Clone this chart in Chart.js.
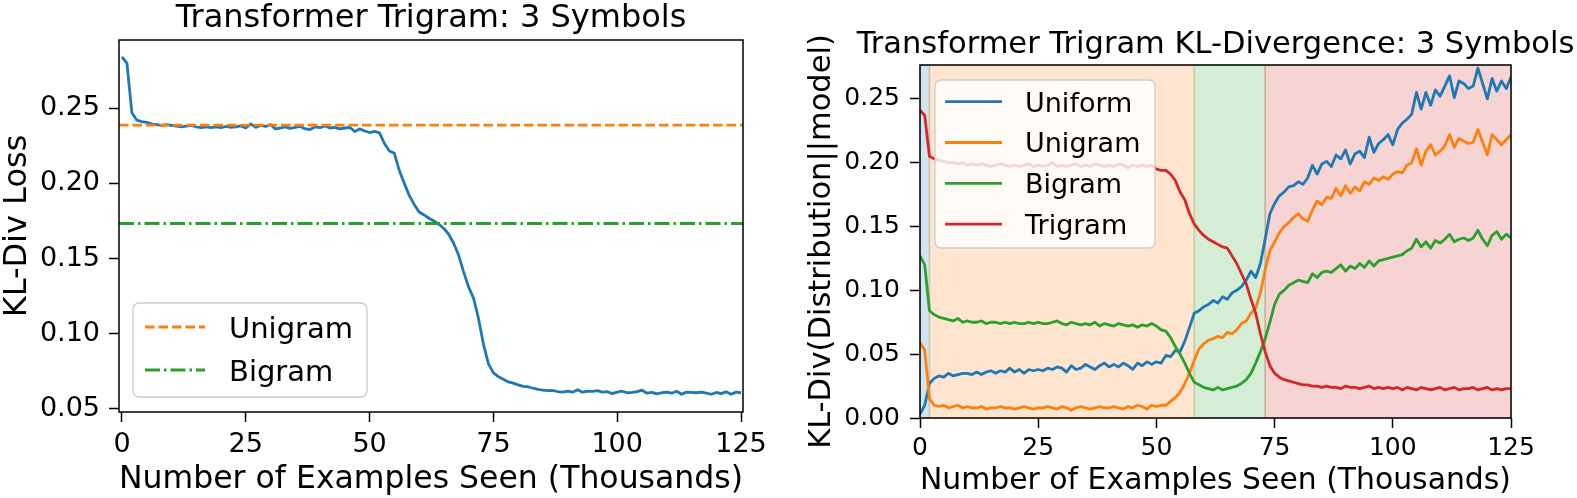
<!DOCTYPE html>
<html>
<head>
<meta charset="utf-8">
<script src="https://cdn.jsdelivr.net/npm/chart.js@4.4.0/dist/chart.umd.min.js"></script>
<style>
  html, body { margin: 0; padding: 0; background: #fff; }
  #wrap { position: relative; width: 1577px; height: 498px; }
  canvas { position: absolute; top: 0; }
  #left { left: 0; }
  #right { left: 790px; }
</style>
</head>
<body>
<div id="wrap">
  <canvas id="left" width="790" height="498"></canvas>
  <canvas id="right" width="787" height="498"></canvas>
</div>
<script>
// examples seen, in thousands (one point per thousand)
const stepsK = [...Array(126).keys()];

// left panel: transformer loss and the two baselines
const lossTransformer = [
  0.284, 0.280, 0.247, 0.242, 0.241, 0.2405, 0.2395, 0.239, 0.2385, 0.239,
  0.2385, 0.238, 0.2375, 0.238, 0.2385, 0.2375, 0.237, 0.2375, 0.237, 0.2375,
  0.237, 0.2378, 0.2372, 0.2375, 0.2382, 0.2368, 0.2395, 0.2372, 0.2385, 0.2378,
  0.239, 0.2362, 0.2368, 0.2375, 0.2365, 0.2372, 0.2378, 0.2362, 0.2358, 0.2376,
  0.237, 0.2382, 0.2368, 0.2372, 0.2362, 0.2368, 0.2372, 0.2345, 0.2362, 0.2348,
  0.2338, 0.2345, 0.2335, 0.2265, 0.2215, 0.2200, 0.2085, 0.200, 0.192, 0.186,
  0.181, 0.179, 0.1768, 0.175, 0.1728, 0.170, 0.166, 0.160, 0.152, 0.141,
  0.131, 0.1235, 0.110, 0.093, 0.080, 0.074, 0.0715, 0.0698, 0.068, 0.0672,
  0.066, 0.065, 0.0648, 0.0638, 0.063, 0.0626, 0.0622, 0.0623, 0.0615, 0.0612,
  0.0618, 0.0612, 0.0628, 0.0612, 0.0618, 0.0617, 0.0622, 0.0612, 0.0615, 0.0602,
  0.0612, 0.0618, 0.0608, 0.061, 0.0615, 0.0625, 0.0605, 0.061, 0.06, 0.0608,
  0.0612, 0.0605, 0.0618, 0.0598, 0.0612, 0.061, 0.0608, 0.0612, 0.0605, 0.0598,
  0.061, 0.0602, 0.0615, 0.0598, 0.0612, 0.0608
];
const unigramLoss = 0.2387;
const bigramLoss = 0.1733;

// right panel: KL(distribution || model)
const klUniform = [
  0.003, 0.010, 0.027, 0.031, 0.033, 0.032, 0.035, 0.033, 0.034, 0.035,
  0.035, 0.034, 0.036, 0.034, 0.036, 0.037, 0.035, 0.037, 0.036, 0.039,
  0.036, 0.038, 0.035, 0.038, 0.037, 0.038, 0.037, 0.039, 0.038, 0.040,
  0.039, 0.036, 0.041, 0.038, 0.039, 0.042, 0.040, 0.038, 0.041, 0.043,
  0.040, 0.042, 0.040, 0.043, 0.041, 0.038, 0.043, 0.041, 0.044, 0.042,
  0.044, 0.043, 0.049, 0.048, 0.053, 0.052, 0.060, 0.071, 0.082, 0.084,
  0.087, 0.089, 0.092, 0.090, 0.095, 0.093, 0.098, 0.100, 0.103, 0.108,
  0.115, 0.110, 0.121, 0.140, 0.160, 0.168, 0.174, 0.177, 0.181, 0.182,
  0.185, 0.183, 0.188, 0.198, 0.191, 0.199, 0.201, 0.197, 0.206, 0.203,
  0.210, 0.199, 0.207, 0.209, 0.204, 0.220, 0.208, 0.215, 0.218, 0.222,
  0.214, 0.226, 0.231, 0.234, 0.238, 0.255, 0.242, 0.255, 0.245, 0.257,
  0.252, 0.260, 0.268, 0.251, 0.264, 0.262, 0.258, 0.260, 0.274, 0.262,
  0.250, 0.266, 0.256, 0.264, 0.258, 0.267
];
const klUnigram = [
  0.059, 0.053, 0.015, 0.010, 0.009, 0.010, 0.008, 0.009, 0.010, 0.008,
  0.009, 0.008, 0.008, 0.009, 0.007, 0.008, 0.008, 0.009, 0.008, 0.008,
  0.007, 0.008, 0.009, 0.008, 0.007, 0.008, 0.008, 0.009, 0.008, 0.007,
  0.009, 0.008, 0.006, 0.008, 0.009, 0.008, 0.007, 0.008, 0.009, 0.008,
  0.008, 0.009, 0.008, 0.007, 0.009, 0.008, 0.010, 0.009, 0.007, 0.010,
  0.009, 0.010, 0.010, 0.013, 0.016, 0.020, 0.027, 0.035, 0.045, 0.054,
  0.058, 0.061, 0.062, 0.064, 0.063, 0.067, 0.066, 0.069, 0.074, 0.076,
  0.082, 0.086, 0.098, 0.116, 0.131, 0.138, 0.145, 0.150, 0.153, 0.157,
  0.160, 0.156, 0.154, 0.163, 0.170, 0.167, 0.173, 0.172, 0.180, 0.174,
  0.182, 0.176, 0.181, 0.178, 0.185, 0.183, 0.188, 0.186, 0.189, 0.187,
  0.191, 0.193, 0.192, 0.198, 0.200, 0.211, 0.198, 0.209, 0.214, 0.206,
  0.209, 0.213, 0.222, 0.212, 0.219, 0.217, 0.215, 0.216, 0.226, 0.216,
  0.206, 0.222, 0.218, 0.214, 0.218, 0.222
];
const klBigram = [
  0.127, 0.120, 0.084, 0.081, 0.079, 0.078, 0.077, 0.076, 0.078, 0.075,
  0.076, 0.075, 0.075, 0.076, 0.074, 0.075, 0.075, 0.074, 0.075, 0.074,
  0.075, 0.074, 0.074, 0.075, 0.074, 0.075, 0.074, 0.074, 0.075, 0.076,
  0.074, 0.073, 0.075, 0.074, 0.073, 0.074, 0.073, 0.075, 0.072, 0.074,
  0.073, 0.072, 0.074, 0.073, 0.072, 0.073, 0.071, 0.073, 0.072, 0.074,
  0.072, 0.069, 0.068, 0.063, 0.056, 0.050, 0.043, 0.035, 0.028, 0.026,
  0.024, 0.023, 0.022, 0.024, 0.022, 0.023, 0.024, 0.025, 0.027, 0.030,
  0.035, 0.043, 0.052, 0.062, 0.075, 0.089, 0.097, 0.100, 0.104, 0.106,
  0.108, 0.107, 0.106, 0.113, 0.110, 0.114, 0.115, 0.114, 0.117, 0.120,
  0.115, 0.119, 0.117, 0.121, 0.118, 0.123, 0.119, 0.123, 0.124, 0.125,
  0.126, 0.127, 0.128, 0.131, 0.133, 0.140, 0.134, 0.138, 0.133, 0.139,
  0.137, 0.140, 0.144, 0.138, 0.140, 0.141, 0.139, 0.141, 0.147, 0.140,
  0.135, 0.143, 0.146, 0.140, 0.144, 0.141
];
const klTrigram = [
  0.241, 0.237, 0.205, 0.203, 0.202, 0.201, 0.200, 0.200, 0.199, 0.200,
  0.198, 0.199, 0.198, 0.199, 0.198, 0.197, 0.198, 0.199, 0.198, 0.197,
  0.198, 0.197, 0.198, 0.199, 0.197, 0.198, 0.197, 0.198, 0.200, 0.197,
  0.198, 0.197, 0.198, 0.199, 0.197, 0.198, 0.197, 0.199, 0.198, 0.197,
  0.198, 0.197, 0.199, 0.198, 0.196, 0.198, 0.197, 0.198, 0.197, 0.198,
  0.195, 0.194, 0.194, 0.191, 0.186, 0.177, 0.171, 0.160, 0.152, 0.147,
  0.143, 0.140, 0.138, 0.136, 0.134, 0.133, 0.127, 0.121, 0.113, 0.105,
  0.093, 0.082, 0.066, 0.052, 0.041, 0.035, 0.032, 0.030, 0.029, 0.028,
  0.027, 0.026, 0.026, 0.025, 0.025, 0.024, 0.025, 0.024, 0.024, 0.023,
  0.025, 0.024, 0.024, 0.023, 0.024, 0.025, 0.023, 0.024, 0.023, 0.024,
  0.023, 0.024, 0.022, 0.024, 0.023, 0.022, 0.024, 0.023, 0.022, 0.023,
  0.024, 0.022, 0.023, 0.024, 0.022, 0.023, 0.023, 0.024, 0.022, 0.023,
  0.024, 0.022, 0.023, 0.022, 0.023, 0.023
];
// training phases shaded behind the right panel (thousands)
const phaseEdges = [0, 2, 58, 73, 125];

// ticks
const xTickVals = [0, 25, 50, 75, 100, 125];
const xTickLabels = ['0', '25', '50', '75', '100', '125'];
const leftYTickVals = [0.05, 0.10, 0.15, 0.20, 0.25];
const leftYTickLabels = ['0.05', '0.10', '0.15', '0.20', '0.25'];
const rightYTickVals = [0, 0.05, 0.10, 0.15, 0.20, 0.25];
const rightYTickLabels = ['0.00', '0.05', '0.10', '0.15', '0.20', '0.25'];

const FONT = "'DejaVu Sans', sans-serif";
const C_BLUE = '#1f77b4', C_ORANGE = '#ff7f0e', C_GREEN = '#2ca02c', C_RED = '#d62728';
const phaseColors = ['rgba(31,119,180,0.2)', 'rgba(255,127,14,0.2)', 'rgba(44,160,44,0.2)', 'rgba(214,39,40,0.2)'];
const LW = 2.8;

Chart.defaults.font.family = FONT;
Chart.defaults.color = '#000';

function pts(ys) {
  return ys.map((y, i) => ({ x: stepsK[i], y: y }));
}

// draws axes frame, title, shaded spans and an in-plot legend
const mplLook = {
  id: 'mplLook',
  beforeDatasetsDraw(chart, args, o) {
    if (!o.phases) return;
    const { ctx, chartArea: a, scales } = chart;
    ctx.save();
    for (let i = 0; i < o.phases.length - 1; i++) {
      const x0 = scales.x.getPixelForValue(o.phases[i]);
      const x1 = scales.x.getPixelForValue(o.phases[i + 1]);
      ctx.fillStyle = o.phaseColors[i];
      ctx.fillRect(x0, a.top, x1 - x0, a.bottom - a.top);
      ctx.strokeStyle = o.phaseColors[i];
      ctx.lineWidth = 1.5;
      ctx.strokeRect(x0, a.top, x1 - x0, a.bottom - a.top);
    }
    ctx.restore();
  },
  afterDatasetsDraw(chart, args, o) {
    const L = o.legend;
    const { ctx } = chart;
    ctx.save();
    ctx.beginPath();
    ctx.roundRect(L.x, L.y, L.w, L.h, 6);
    ctx.fillStyle = 'rgba(255,255,255,0.8)';
    ctx.fill();
    ctx.strokeStyle = '#cccccc';
    ctx.lineWidth = 1.3;
    ctx.stroke();
    ctx.font = L.size + 'px ' + FONT;
    ctx.textBaseline = 'alphabetic';
    L.items.forEach((name, i) => {
      const ds = chart.data.datasets.find(d => d.label === name);
      const cy = L.row0 + i * L.dy;
      ctx.beginPath();
      ctx.setLineDash(ds.borderDash || []);
      ctx.strokeStyle = ds.borderColor;
      ctx.lineWidth = ds.borderWidth;
      ctx.moveTo(L.hx0, cy);
      ctx.lineTo(L.hx1, cy);
      ctx.stroke();
      ctx.setLineDash([]);
      ctx.fillStyle = '#000';
      ctx.fillText(name, L.tx, cy + L.size * 0.365);
    });
    ctx.restore();
  },
  afterDraw(chart, args, o) {
    const { ctx, chartArea: a } = chart;
    ctx.save();
    ctx.strokeStyle = '#000';
    ctx.lineWidth = 1.5;
    ctx.strokeRect(a.left, a.top, a.right - a.left, a.bottom - a.top);
    ctx.font = o.titleSize + 'px ' + FONT;
    ctx.fillStyle = '#000';
    ctx.textAlign = 'center';
    ctx.textBaseline = 'alphabetic';
    ctx.fillText(o.title, (a.left + a.right) / 2, o.titleBase);
    ctx.restore();
  }
};

function axes(opt) {
  return {
    x: {
      type: 'linear', min: opt.xMin, max: opt.xMax,
      afterBuildTicks: s => { s.ticks = xTickVals.map(v => ({ value: v })); },
      afterFit: s => { s.height = opt.xH; },
      border: { display: false },
      grid: { drawOnChartArea: false, drawTicks: true, tickLength: 10, tickWidth: 1.5, tickColor: '#000' },
      ticks: { color: '#000', padding: opt.xPad, maxRotation: 0, font: { size: opt.tick },
               callback: (v, i) => xTickLabels[i] },
      title: { display: true, text: 'Number of Examples Seen (Thousands)', color: '#000',
               font: { size: opt.label }, padding: { top: 0, bottom: opt.xTitlePad } }
    },
    y: {
      type: 'linear', min: opt.yMin, max: opt.yMax,
      afterBuildTicks: s => { s.ticks = opt.yVals.map(v => ({ value: v })); },
      afterFit: s => { s.width = opt.yW; },
      border: { display: false },
      grid: { drawOnChartArea: false, drawTicks: true, tickLength: 10, tickWidth: 1.5, tickColor: '#000' },
      ticks: { color: '#000', padding: opt.yPad, font: { size: opt.tick },
               callback: (v, i) => opt.yLabels[i] },
      title: { display: true, text: opt.yTitle, color: '#000',
               font: { size: opt.label }, padding: { top: opt.yTitlePad, bottom: 0 } }
    }
  };
}

const lineBase = { pointRadius: 0, tension: 0, borderJoinStyle: 'round', fill: false };

new Chart(document.getElementById('left'), {
  type: 'line',
  data: {
    datasets: [
      Object.assign({}, lineBase, { label: 'Unigram', borderColor: C_ORANGE, borderWidth: LW, borderDash: [9.5, 4],
        data: [{ x: -0.6, y: unigramLoss }, { x: 125.4, y: unigramLoss }] }),
      Object.assign({}, lineBase, { label: 'Bigram', borderColor: C_GREEN, borderWidth: LW, borderDash: [15, 4, 2.5, 4],
        data: [{ x: -0.6, y: bigramLoss }, { x: 125.4, y: bigramLoss }] }),
      Object.assign({}, lineBase, { label: 'Transformer', borderColor: C_BLUE, borderWidth: LW, data: pts(lossTransformer) })
    ]
  },
  options: {
    responsive: false, animation: false, devicePixelRatio: 1,
    layout: { padding: { left: 0, right: 47, top: 40, bottom: 0 } },
    scales: axes({ xMin: -0.6, xMax: 125.4, yMin: 0.048, yMax: 0.2953, yVals: leftYTickVals, yLabels: leftYTickLabels,
                   yTitle: 'KL-Div Loss', xH: 86, yW: 119, tick: 27, label: 32, xPad: 7, yPad: 9,
                   xTitlePad: -1, yTitlePad: -2 }),
    plugins: {
      legend: { display: false }, tooltip: { enabled: false },
      mplLook: {
        title: 'Transformer Trigram: 3 Symbols', titleSize: 32, titleBase: 27,
        legend: { x: 133, y: 303, w: 234, h: 94, row0: 327, dy: 43, hx0: 145, hx1: 205, tx: 229, size: 29,
                  items: ['Unigram', 'Bigram'] }
      }
    }
  },
  plugins: [mplLook]
});

new Chart(document.getElementById('right'), {
  type: 'line',
  data: {
    datasets: [
      Object.assign({}, lineBase, { label: 'Trigram', borderColor: C_RED, borderWidth: LW, data: pts(klTrigram) }),
      Object.assign({}, lineBase, { label: 'Bigram', borderColor: C_GREEN, borderWidth: LW, data: pts(klBigram) }),
      Object.assign({}, lineBase, { label: 'Unigram', borderColor: C_ORANGE, borderWidth: LW, data: pts(klUnigram) }),
      Object.assign({}, lineBase, { label: 'Uniform', borderColor: C_BLUE, borderWidth: LW, data: pts(klUniform) })
    ]
  },
  options: {
    responsive: false, animation: false, devicePixelRatio: 1,
    layout: { padding: { left: 0, right: 66, top: 65, bottom: 0 } },
    scales: axes({ xMin: 0, xMax: 125, yMin: 0, yMax: 0.2765, yVals: rightYTickVals, yLabels: rightYTickLabels,
                   yTitle: 'KL-Div(Distribution||model)', xH: 80, yW: 130, tick: 25, label: 30.5, xPad: 5, yPad: 10,
                   xTitlePad: -1, yTitlePad: 14 }),
    plugins: {
      legend: { display: false }, tooltip: { enabled: false },
      mplLook: {
        title: 'Transformer Trigram KL-Divergence: 3 Symbols', titleSize: 30.5, titleBase: 53,
        phases: phaseEdges, phaseColors: phaseColors,
        legend: { x: 145, y: 80, w: 220, h: 168, row0: 101.7, dy: 40.8, hx0: 155, hx1: 212, tx: 235, size: 27,
                  items: ['Uniform', 'Unigram', 'Bigram', 'Trigram'] }
      }
    }
  },
  plugins: [mplLook]
});
</script>
</body>
</html>
